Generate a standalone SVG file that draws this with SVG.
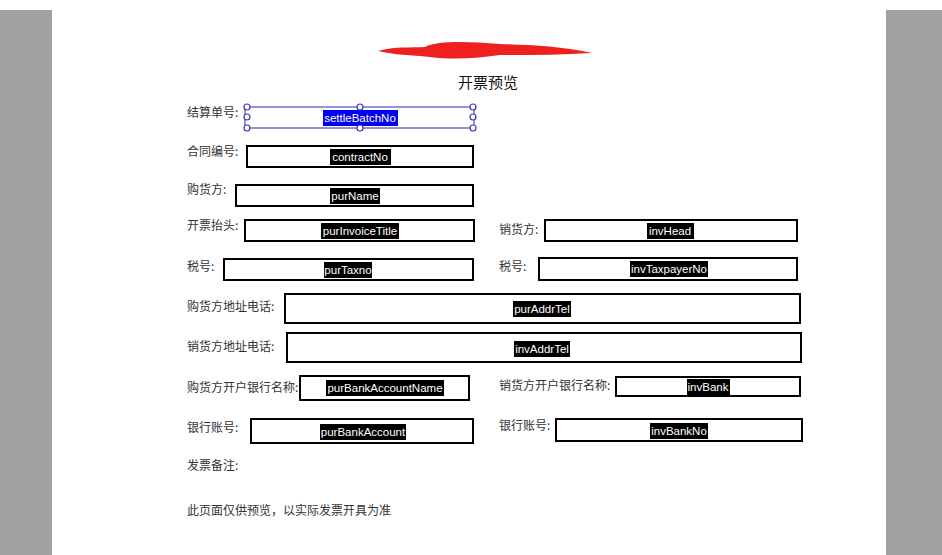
<svg xmlns="http://www.w3.org/2000/svg" width="942" height="555" viewBox="0 0 942 555">
<style>
.lb{font-family:"Noto Sans CJK SC","Liberation Sans",sans-serif;font-size:12px;fill:#333}
.bx{fill:#fff;stroke:#000;stroke-width:2}
.hl{fill:#000}
.ft{font-family:"Liberation Sans",sans-serif;font-size:11.5px;fill:#fff;text-anchor:middle}
.hd{fill:#fff;stroke:#3b3bb0;stroke-width:1.2}
</style>
<rect width="942" height="555" fill="#fff"/>
<rect x="0" y="10" width="52" height="545" fill="#a0a0a0"/>
<rect x="886" y="10" width="56" height="545" fill="#a0a0a0"/>
<path d="M378,51 C395,46 410,48 425,47 C440,40 470,42 500,44 C530,45 560,46 592,53 C560,55 530,55 500,55 C480,58 455,60 430,57 C410,55 395,55 378,51 Z" fill="#ee2020"/>
<text x="488" y="88" class="lb" style="font-size:15px;fill:#111" text-anchor="middle">开票预览</text>
<g id="settleBatchNo">
<text x="187" y="117" class="lb">结算单号:</text>
<rect x="245" y="107" width="229" height="21" fill="#fff" stroke="#5050b8" stroke-width="1.2"/>
<rect x="323" y="110" width="75" height="16" fill="#0000ee"/>
<text x="360" y="122" class="ft">settleBatchNo</text>
<circle cx="247" cy="107" r="3" class="hd"/><circle cx="360" cy="107" r="3" class="hd"/><circle cx="473" cy="107" r="3" class="hd"/>
<circle cx="247" cy="117" r="3" class="hd"/><circle cx="473" cy="117" r="3" class="hd"/>
<circle cx="247" cy="128" r="3" class="hd"/><circle cx="360" cy="128" r="3" class="hd"/><circle cx="473" cy="128" r="3" class="hd"/>
</g>
<g id="contractNo">
<text x="187" y="156" class="lb">合同编号:</text>
<rect x="247" y="146" width="226" height="21" class="bx"/>
<rect x="330" y="149" width="61" height="16" class="hl"/>
<text x="360" y="161" class="ft">contractNo</text>
</g>
<g id="purName">
<text x="187" y="194" class="lb">购货方:</text>
<rect x="236" y="185" width="237" height="21" class="bx"/>
<rect x="330" y="188" width="50" height="16" class="hl"/>
<text x="355" y="200" class="ft">purName</text>
</g>
<g id="purInvoiceTitle">
<text x="187" y="230" class="lb">开票抬头:</text>
<rect x="245" y="220" width="229" height="21" class="bx"/>
<rect x="321" y="223" width="78" height="16" class="hl"/>
<text x="360" y="235" class="ft">purInvoiceTitle</text>
</g>
<g id="invHead">
<text x="499" y="234" class="lb">销货方:</text>
<rect x="545" y="220" width="252" height="21" class="bx"/>
<rect x="647" y="223" width="47" height="16" class="hl"/>
<text x="670" y="235" class="ft">invHead</text>
</g>
<g id="purTaxno">
<text x="187" y="271" class="lb">税号:</text>
<rect x="224" y="259" width="249" height="21" class="bx"/>
<rect x="324" y="262" width="48" height="16" class="hl"/>
<text x="348" y="274" class="ft">purTaxno</text>
</g>
<g id="invTaxpayerNo">
<text x="499" y="271" class="lb">税号:</text>
<rect x="539" y="258" width="258" height="22" class="bx"/>
<rect x="630" y="261" width="78" height="16" class="hl"/>
<text x="669" y="273" class="ft">invTaxpayerNo</text>
</g>
<g id="purAddrTel">
<text x="187" y="311" class="lb">购货方地址电话:</text>
<rect x="285" y="294" width="515" height="29" class="bx"/>
<rect x="513" y="301" width="58" height="16" class="hl"/>
<text x="542" y="313" class="ft">purAddrTel</text>
</g>
<g id="invAddrTel">
<text x="187" y="351" class="lb">销货方地址电话:</text>
<rect x="287" y="333" width="514" height="29" class="bx"/>
<rect x="514" y="341" width="56" height="16" class="hl"/>
<text x="542" y="353" class="ft">invAddrTel</text>
</g>
<g id="purBankAccountName">
<text x="187" y="392" class="lb">购货方开户银行名称:</text>
<rect x="300" y="376" width="169" height="24" class="bx"/>
<rect x="326" y="380" width="118" height="16" class="hl"/>
<text x="385" y="392" class="ft">purBankAccountName</text>
</g>
<g id="invBank">
<text x="499" y="390" class="lb">销货方开户银行名称:</text>
<rect x="616" y="377" width="184" height="19" class="bx"/>
<rect x="687" y="379" width="43" height="16" class="hl"/>
<text x="708" y="391" class="ft">invBank</text>
</g>
<g id="purBankAccount">
<text x="187" y="432" class="lb">银行账号:</text>
<rect x="251" y="419" width="222" height="24" class="bx"/>
<rect x="320" y="424" width="86" height="16" class="hl"/>
<text x="363" y="436" class="ft">purBankAccount</text>
</g>
<g id="invBankNo">
<text x="499" y="430" class="lb">银行账号:</text>
<rect x="556" y="419" width="246" height="22" class="bx"/>
<rect x="650" y="423" width="58" height="16" class="hl"/>
<text x="679" y="435" class="ft">invBankNo</text>
</g>
<text x="187" y="470" class="lb">发票备注:</text>
<text x="187" y="515" class="lb">此页面仅供预览，以实际发票开具为准</text>
</svg>
